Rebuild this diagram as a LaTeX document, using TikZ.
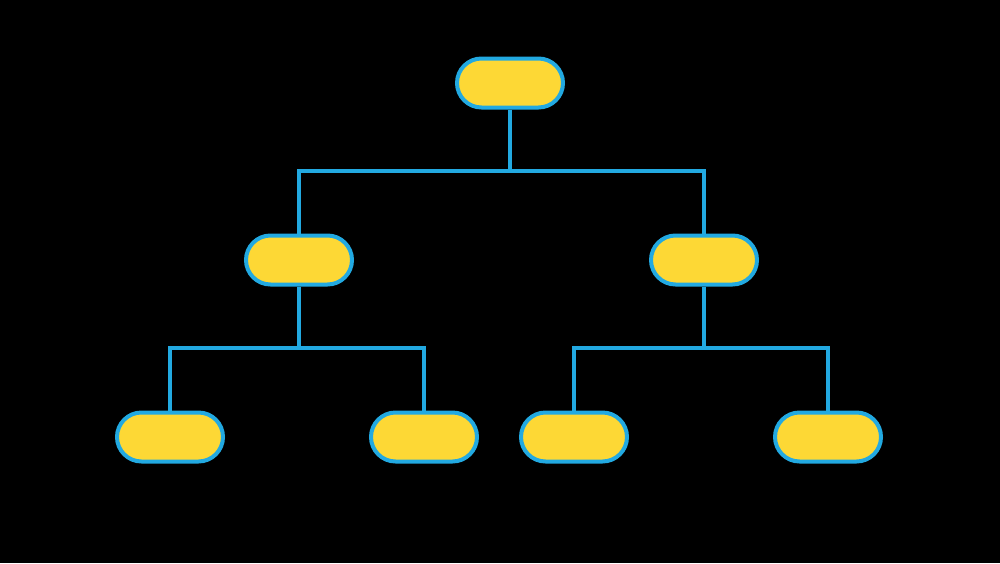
\documentclass[tikz,border=0pt]{standalone}
\definecolor{pillfill}{HTML}{FDD835}
\definecolor{wire}{HTML}{22A9E1}
\tikzset{
  pill/.style={draw=wire, fill=pillfill, line width=4pt, rounded corners=24.5pt,
    minimum width=106pt, minimum height=49pt, inner sep=0pt},
  wireline/.style={draw=wire, line width=4pt}
}
\begin{document}
\begin{tikzpicture}[x=1pt,y=-1pt]
\fill[black] (0,0) rectangle (1000,563);
\useasboundingbox (0,0) rectangle (1000,563);
% nodes
\node[pill] (top) at (510,83) {};
\node[pill] (ml) at (299,260) {};
\node[pill] (mr) at (704,260) {};
\node[pill] (ll) at (170,437) {};
\node[pill] (lr) at (424,437) {};
\node[pill] (rl) at (574,437) {};
\node[pill] (rr) at (828,437) {};
% bus points
\coordinate (b1) at (510,171);
\coordinate (b2) at (299,348);
\coordinate (b3) at (704,348);
% connectors
\draw[wireline] (top.south) -- (b1);
\draw[wireline] (ml.north) |- (b1) -| (mr.north);
\draw[wireline] (ml.south) -- (b2);
\draw[wireline] (ll.north) |- (b2) -| (lr.north);
\draw[wireline] (mr.south) -- (b3);
\draw[wireline] (rl.north) |- (b3) -| (rr.north);
\end{tikzpicture}
\end{document}
